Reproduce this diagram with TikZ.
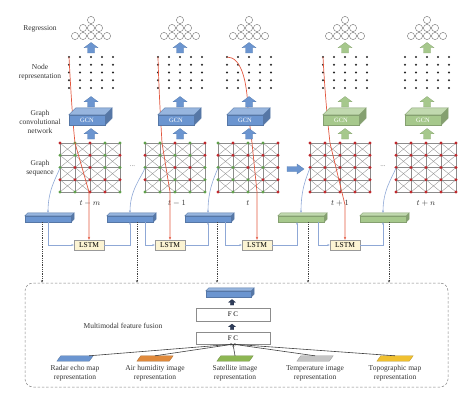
\documentclass[tikz,border=0pt]{standalone}
\usepackage{fontspec}
\setmainfont{Liberation Serif}
\usetikzlibrary{positioning,arrows.meta,calc}

\definecolor{gcnblue}{HTML}{6B95D0}
\definecolor{gcngreen}{HTML}{A6C88C}
\definecolor{nodered}{HTML}{C0282C}
\definecolor{nodegreen}{HTML}{5FA04A}
\definecolor{linkred}{HTML}{E2573F}
\definecolor{flowblue}{HTML}{8FA8D6}
\definecolor{lstmfill}{HTML}{FCF4D3}
\definecolor{navy}{HTML}{2F3D5A}
\definecolor{radarc}{HTML}{6B95D0}
\definecolor{humidc}{HTML}{E08A3C}
\definecolor{satc}{HTML}{8DB653}
\definecolor{tempc}{HTML}{C4C4C4}
\definecolor{topoc}{HTML}{F0C030}

% faces of a flat 3d box on top of a front-face node
\newcommand{\slabtop}[3]{%
  \filldraw[fill=#3!70!white, draw=#3!80!black, line width=0.3pt]
    (#1.north west) -- ++(#2,-#2) -- ([shift={(#2,-#2)}]#1.north east) -- (#1.north east) -- cycle;
  \filldraw[fill=#3!80!black, draw=#3!80!black, line width=0.3pt]
    (#1.north east) -- ++(#2,-#2) -- ([shift={(#2,-#2)}]#1.south east) -- (#1.south east) -- cycle;}
% fat upward arrow: x, base y, height, half head width, colour
\newcommand{\blockup}[5]{%
  \filldraw[fill=#5, draw=#5!85!black, line width=0.3pt]
    (#1-#4/2,#2) -- (#1-#4/2,#2-#3/2) -- (#1-#4,#2-#3/2) -- (#1,#2-#3)
    -- (#1+#4,#2-#3/2) -- (#1+#4/2,#2-#3/2) -- (#1+#4/2,#2) -- cycle;}

\tikzset{
  lbl/.style={font=\fontsize{7.5}{9}\selectfont, align=center, text=black!80},
  tlbl/.style={font=\fontsize{8}{9}\selectfont, text=black!80},
  slab/.style={fill=#1, draw=#1!80!black, line width=0.3pt, inner sep=0pt},
  gridline/.style={draw=black!45, line width=0.35pt},
  neuron/.style={draw=black!45, fill=white, line width=0.5pt},
  lstm/.style={draw=black!40, fill=lstmfill, minimum width=30pt, minimum height=10pt,
    inner sep=0pt, font=\fontsize{7.5}{8}\selectfont},
  flow/.style={draw=flowblue, line width=0.6pt, -{Stealth[length=2.5pt,width=2pt]}},
  link/.style={draw=linkred, line width=0.7pt, -{Stealth[length=3pt,width=2.4pt]}},
  dotarr/.style={draw=black!75, dash pattern=on 0.6pt off 1.2pt, line width=0.5pt,
    -{Stealth[length=2.5pt,width=2pt]}},
  fcbox/.style={draw=black!45, fill=white, minimum width=74pt, inner sep=0pt,
    font=\fontsize{7}{8}\selectfont},
  feed/.style={draw=black!75, line width=0.6pt, -{Stealth[length=2.5pt,width=2pt]}},
}

\begin{document}
\begin{tikzpicture}[x=1pt, y=-1pt]
  \useasboundingbox (0,0) rectangle (474,404);

  % row labels
  \node[lbl] (lreg) at (40,29) {Regression};
  \node[lbl] (lnode) at (40,72) {Node\\representation};
  \node[lbl] (lgcn) at (40,121.5) {Graph\\convolutional\\network};
  \node[lbl] (lseq) at (40,168) {Graph\\sequence};

  % graph sequence
  \foreach \i/\gx in {1/60,2/145,3/218,4/310,5/396} {
    \foreach \c in {0,...,4} \draw[gridline] (\gx+15*\c,143) -- (\gx+15*\c,192);
    \foreach \r in {0,...,4} \draw[gridline] (\gx,143+12.25*\r) -- (\gx+60,143+12.25*\r);
    \foreach \c in {0,...,3} \foreach \r in {0,...,3} {
      \draw[gridline] (\gx+15*\c,143+12.25*\r) -- ++(15,12.25);
      \draw[gridline] (\gx+15*\c+15,143+12.25*\r) -- ++(-15,12.25);
    }
    \foreach \c in {0,...,4} \foreach \r in {0,...,4} {
      \pgfmathtruncatemacro\k{mod(3*\r+2*\c+\i*\c*\r+\i,5)}
      \ifnum\i>3 \def\dc{nodered}\else\ifnum\k<2 \def\dc{nodered}\else\def\dc{nodegreen}\fi\fi
      \fill[\dc] (\gx+15*\c,143+12.25*\r) circle (1.7pt);
    }
    \coordinate (gl\i) at (\gx,168);
  }
  \node[tlbl] (t1) at (90,203) {$t-m$};
  \node[tlbl] (t2) at (177,203) {$t-1$};
  \node[tlbl] (t3) at (248,203) {$t$};
  \node[tlbl] (t4) at (340,203) {$t+1$};
  \node[tlbl] (t5) at (426,203) {$t+n$};
  \node[font=\fontsize{7}{8}\selectfont, text=black!55] (gap1) at (132.5,166) {...};
  \node[font=\fontsize{7}{8}\selectfont, text=black!55] (gap2) at (383,166) {...};
  \filldraw[fill=gcnblue, draw=gcnblue!85!black, line width=0.3pt]
    (287,166.5) -- (297,166.5) -- (297,164) -- (304,169) -- (297,174) -- (297,171.5) -- (287,171.5) -- cycle;

  % lstm chain
  \node[lstm] (lstm1) at (89,245) {LSTM};
  \node[lstm] (lstm2) at (170,245) {LSTM};
  \node[lstm] (lstm3) at (257,245) {LSTM};
  \node[lstm] (lstm4) at (345,245) {LSTM};
  \foreach \i/\bx/\cl in {1/48/gcnblue,2/130/gcnblue,3/208/gcnblue,4/301/gcngreen,5/383/gcngreen} {
    \node[slab=\cl, minimum width=46pt, minimum height=6pt] (bar\i) at (\bx,219) {};
    \slabtop{bar\i}{3}{\cl}
  }

  % regression and node representation
  \foreach \i/\ux in {1/91,2/180,3/249,4/345,5/427} {
    \foreach \dx/\y in {-16/36,-8/36,0/36,8/36,16/36,-8/28,0/28,8/28,0/20}
      \draw[neuron] (\ux+\dx,\y) circle (3.6pt);
    \foreach \c in {0,...,4} \foreach \r in {0,...,4}
      \fill[black!85] (\ux-22+11*\c,57+7.75*\r) circle (1.1pt);
    \coordinate (top\i) at (\ux-22,57);
  }

  % links to the lstm cells
  \draw[link] (top1) .. controls (71,95) and (73,125) .. (75,143) -- (89,192) -- (lstm1.north);
  \draw[link] (top2) .. controls (159,95) and (161,125) .. (162,143) -- (170,192) -- (lstm2.north);
  \draw[link] (top3) .. controls (241,57) and (247,80) .. (248,110) -- (252,143) -- (257,192) -- (lstm3.north);
  \draw[link] (top4) .. controls (325,95) and (328,125) .. (330,143) -- (345,205) -- (lstm4.north);

  % gcn blocks
  \foreach \i/\ux/\cl in {1/91/gcnblue,2/180/gcnblue,3/249/gcnblue,4/345/gcngreen,5/427/gcngreen} {
    \node[slab=\cl, minimum width=36pt, minimum height=10pt, text=white,
      font=\fontsize{6.5}{7}\selectfont] (gcn\i) at (\ux-4,120) {GCN};
    \slabtop{gcn\i}{7}{\cl}
    \blockup{\ux}{53}{10.5}{7}{\cl}
    \blockup{\ux}{107}{10.5}{7}{\cl}
    \blockup{\ux}{139}{10.5}{7}{\cl}
  }

  % graph to feature bars
  \foreach \i/\gx/\bx in {1/60/48,2/145/130,3/218/208,4/310/301,5/396/383}
    \draw[flow] (gl\i) .. controls (\gx-4,178) and (\bx,190) .. ([yshift=3pt]bar\i.north);
  \draw[flow] (bar1.south) |- (lstm1.west);
  \draw[flow] (lstm1.east) -| (bar2.south);
  \draw[flow] ([xshift=15pt]bar2.south) |- (lstm2.west);
  \draw[flow] (lstm2.east) -| (bar3.south);
  \draw[flow] ([xshift=17pt]bar3.south) |- (lstm3.west);
  \draw[flow] (lstm3.east) -| ([xshift=-4pt]bar4.south);
  \draw[flow] ([xshift=17pt]bar4.south) |- (lstm4.west);
  \draw[flow] (lstm4.east) -| (bar5.south);

  % multimodal fusion
  \node[draw=black!50, dash pattern=on 2.5pt off 1.8pt, rounded corners=8pt, line width=0.5pt,
    minimum width=423pt, minimum height=104pt, inner sep=0pt] (fus) at (236.5,335) {};
  \foreach \i/\dx in {1/-6,2/7,3/9,4/7,5/6}
    \draw[dotarr] ([xshift=\dx pt]bar\i.south) -- ([xshift=\dx pt]bar\i.south |- fus.north);
  \node[lbl] (fuslbl) at (123,326) {Multimodal feature fusion};
  \node[slab=gcnblue, minimum width=45pt, minimum height=6pt] (fbar) at (228.5,294) {};
  \slabtop{fbar}{3}{gcnblue}
  \node[fcbox, minimum height=13pt] (fc1) at (233,314.5) {F C};
  \node[fcbox, minimum height=12pt] (fc2) at (233,338) {F C};
  \blockup{232}{305}{5.5}{3.5}{navy}
  \blockup{232}{329.5}{5.5}{3.5}{navy}

  \foreach \i/\mx/\cl in {1/75/radarc,2/155/humidc,3/235/satc,4/315/tempc,5/395/topoc} {
    \node[minimum width=36pt, minimum height=5pt, inner sep=0pt] (m\i) at (\mx,358.5) {};
    \filldraw[fill=\cl, draw=\cl!75!black, line width=0.3pt]
      (m\i.south west) -- ([xshift=-4pt]m\i.south east) -- (m\i.north east)
      -- ([xshift=4pt]m\i.north west) -- cycle;
  }
  \node[lbl, below=1pt of m1] (ml1) {Radar echo map\\representation};
  \node[lbl, below=1pt of m2] (ml2) {Air humidity image\\representation};
  \node[lbl, below=1pt of m3] (ml3) {Satellite image\\representation};
  \node[lbl, below=1pt of m4] (ml4) {Temperature image\\representation};
  \node[lbl, below=1pt of m5] (ml5) {Topographic map\\representation};
  \draw[feed] ([xshift=-4pt]m1.north east) -- (fc2.south);
  \foreach \i in {2,...,5}
    \draw[feed] (m\i.north) -- (fc2.south);
\end{tikzpicture}
\end{document}
